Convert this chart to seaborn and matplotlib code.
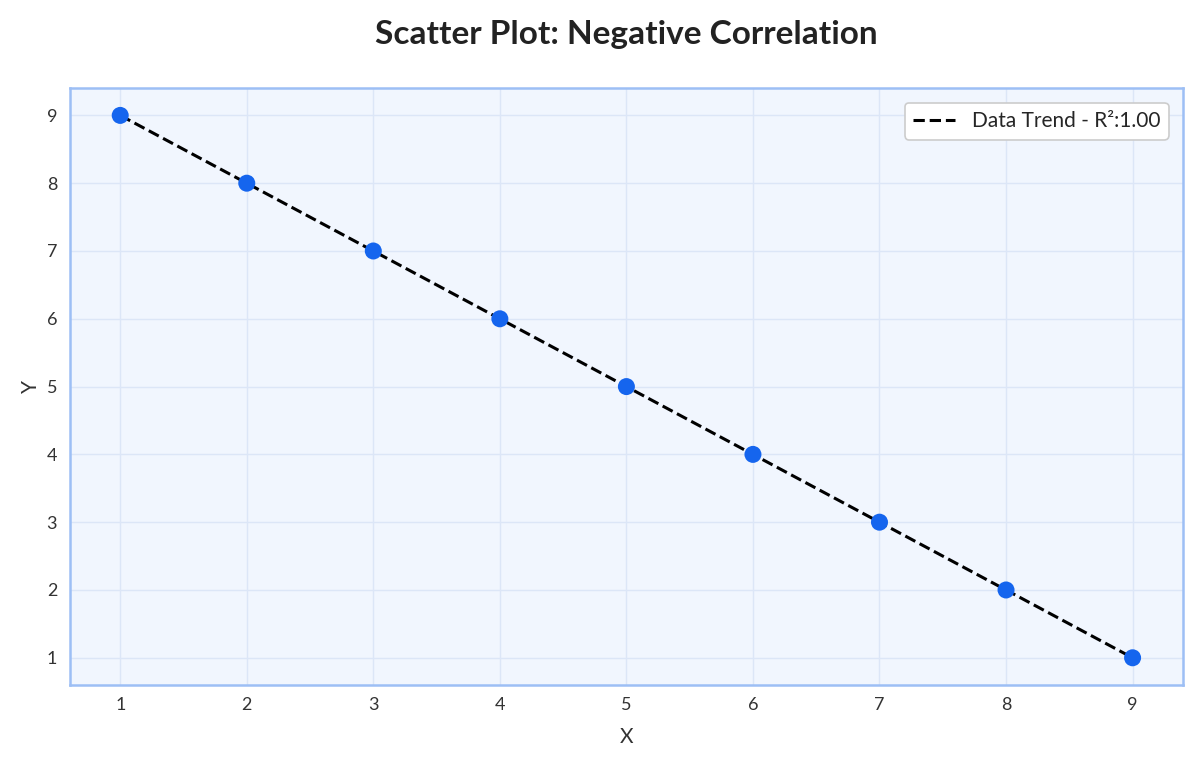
import numpy as np
import pandas as pd
import seaborn as sns
import matplotlib.pyplot as plt

x_vals = [1, 2, 3, 4, 5, 6, 7, 8, 9]
y_vals = [9, 8, 7, 6, 5, 4, 3, 2, 1]

df = pd.DataFrame({'X': x_vals, 'Y': y_vals})

sns.set_theme(style='whitegrid')
plt.rcParams['font.family'] = ['Lato', 'DejaVu Sans']

fig, ax = plt.subplots(figsize=(12, 7.61), dpi=100)
ax.set_facecolor('#F1F6FE')

# trend line
slope, intercept = np.polyfit(df['X'], df['Y'], 1)
pred = slope * df['X'] + intercept
r2 = 1 - ((df['Y'] - pred) ** 2).sum() / ((df['Y'] - df['Y'].mean()) ** 2).sum()
sns.lineplot(x=df['X'], y=pred, ax=ax, color='black', linestyle='--', linewidth=2.2,
             label=f'Data Trend - R²:{r2:.2f}', zorder=2)
sns.scatterplot(data=df, x='X', y='Y', ax=ax, color='#1565EE', s=150,
                edgecolor='none', zorder=3)

ax.set_xticks(x_vals)
ax.set_yticks(sorted(y_vals))
ax.grid(True, color='#DCE6F7', linewidth=1)
for s in ax.spines.values():
    s.set_color('#9DBFF5')
    s.set_linewidth(1.8)

ax.tick_params(axis='both', labelsize=13, colors='#333333', length=0, pad=9)
ax.set_xlabel('X', fontsize=15, color='#333333', labelpad=10)
ax.set_ylabel('Y', fontsize=15, color='#333333', labelpad=4)
ax.set_title('Scatter Plot: Negative Correlation', fontsize=24, fontweight='bold',
             color='#222222', pad=32)

leg = ax.legend(loc='upper right', fontsize=15, frameon=True, framealpha=1,
                facecolor='white', edgecolor='#CCCCCC', borderaxespad=0.7)
leg.get_frame().set_linewidth(1.2)

plt.subplots_adjust(left=0.058, right=0.986, top=0.884, bottom=0.1)
plt.savefig('out.png', dpi=100)
